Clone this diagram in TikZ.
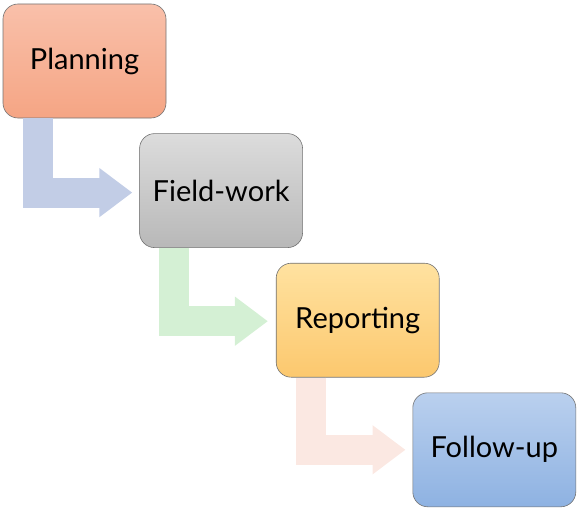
\documentclass[tikz,border=0pt]{standalone}
\usepackage{fontspec}
\setsansfont{Lato}
\usepackage{tikz}
\usetikzlibrary{positioning, arrows.meta}

\definecolor{planTop}{RGB}{249,192,170}
\definecolor{planBot}{RGB}{245,165,132}
\definecolor{fieldTop}{RGB}{220,220,220}
\definecolor{fieldBot}{RGB}{184,184,184}
\definecolor{repTop}{RGB}{255,226,160}
\definecolor{repBot}{RGB}{252,200,110}
\definecolor{followTop}{RGB}{186,208,238}
\definecolor{followBot}{RGB}{142,178,226}
\definecolor{flowBlue}{RGB}{194,205,230}
\definecolor{flowGreen}{RGB}{212,240,212}
\definecolor{flowPink}{RGB}{251,232,226}

\begin{document}
\begin{tikzpicture}[
  x=1pt, y=-1pt,
  font=\sffamily\fontsize{29}{32}\selectfont,
  box/.style={draw=black!55, rounded corners=15pt, minimum width=163pt,
    minimum height=114pt, align=center, line width=0.6pt},
  flow/.style={line width=30pt, -{Triangle[width=47pt, length=33pt]}},
]
  \useasboundingbox (0,0) rectangle (580,511);

  \node[box, top color=planTop, bottom color=planBot] (plan) at (84.5,61) {Planning};
  \node[box, top color=fieldTop, bottom color=fieldBot,
    below right=15pt and -27pt of plan] (field) {Field-work};
  \node[box, top color=repTop, bottom color=repBot,
    below right=15pt and -27pt of field] (report) {Reporting};
  \node[box, top color=followTop, bottom color=followBot,
    below right=15pt and -27pt of report] (follow) {Follow-up};

  \draw[flow, flowBlue] ([xshift=35pt]plan.south west) |- ([xshift=-7pt,yshift=-2pt]field.west);
  \draw[flow, flowGreen] ([xshift=35pt]field.south west) |- ([xshift=-8pt,yshift=-1pt]report.west);
  \draw[flow, flowPink] ([xshift=35pt]report.south west) |- ([xshift=-7pt]follow.west);
\end{tikzpicture}
\end{document}
